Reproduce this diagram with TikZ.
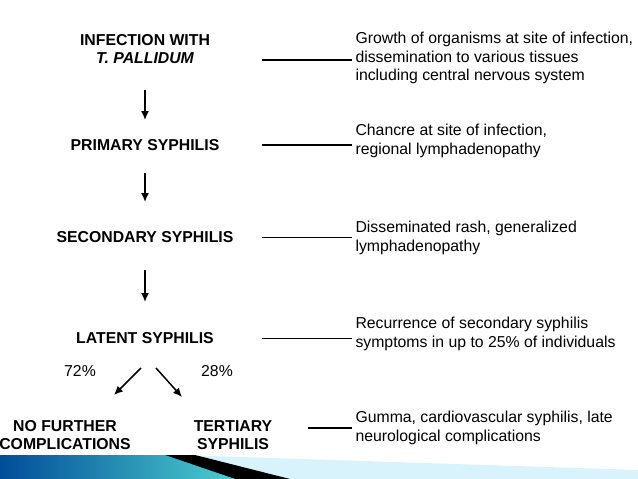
\documentclass[tikz,border=0pt]{standalone}
\usepackage{fontspec}
\setmainfont{Liberation Sans}
\usetikzlibrary{arrows.meta}
\begin{document}
\begin{tikzpicture}[x=1pt,y=-1pt,
  lt/.style={font=\bfseries\fontsize{15.8}{18}\selectfont,align=center},
  rt/.style={font=\fontsize{15.8}{18.5}\selectfont,align=left,anchor=west},
  arr/.style={-{Latex[length=9pt,width=8pt]},line width=1.5pt},
  thk/.style={line width=1.6pt},
  thn/.style={line width=0.9pt}]
\useasboundingbox (0,0) rectangle (638,479);
\fill[white] (0,0) rectangle (638,479);
% bottom band
\fill[cyan!15!white] (180,455) -- (638,470) -- (638,479) -- (180,479) -- cycle;
\fill[black] (160,455) -- (195,455) -- (290,479) -- (235,479) -- cycle;
\shade[left color=cyan!50!blue!60!black, right color=cyan!45!teal!70] (0,455) -- (165,455) -- (235,479) -- (0,479) -- cycle;
\node[lt] (a) at (145,49) {INFECTION WITH\\ \itshape T. PALLIDUM};
\node[lt] (b) at (145,145) {PRIMARY SYPHILIS};
\node[lt] (c) at (145,237) {SECONDARY SYPHILIS};
\node[lt] (d) at (145,338) {LATENT SYPHILIS};
\node[lt] (e) at (65,435) {NO FURTHER\\COMPLICATIONS};
\node[lt] (f) at (233,435) {TERTIARY\\SYPHILIS};
\node[font=\fontsize{15.8}{17}\selectfont] (p1) at (80,371) {72\%};
\node[font=\fontsize{15.8}{17}\selectfont] (p2) at (217,371) {28\%};
\coordinate (a1) at (145,90); \coordinate (a2) at (145,120);
\coordinate (b1) at (145,173); \coordinate (b2) at (145,202);
\coordinate (c1) at (145,270); \coordinate (c2) at (145,302);
\coordinate (d1) at (141,368); \coordinate (d2) at (114,395);
\coordinate (d3) at (156,368); \coordinate (d4) at (182,397);
\draw[arr] (a1) -- (a2);
\draw[arr] (b1) -- (b2);
\draw[arr] (c1) -- (c2);
\draw[arr] (d1) -- (d2);
\draw[arr] (d3) -- (d4);
\node[rt] (r1) at (352,58) {Growth of organisms at site of infection,\\dissemination to various tissues\\including central nervous system};
\node[rt] (r2) at (352,141) {Chancre at site of infection,\\regional lymphadenopathy};
\node[rt] (r3) at (352,238) {Disseminated rash, generalized\\lymphadenopathy};
\node[rt] (r4) at (352,334) {Recurrence of secondary syphilis\\symptoms in up to 25\% of individuals};
\node[rt] (r5) at (352,428) {Gumma, cardiovascular syphilis, late\\neurological complications};
\coordinate (l1) at (262,60); \coordinate (l2) at (262,145);
\coordinate (l3) at (262,237); \coordinate (l4) at (262,338);
\coordinate (l5) at (308,428);
\draw[thk] (l1) -- (l1 -| r1.west);
\draw[thk] (l2) -- (l2 -| r2.west);
\draw[thn] (l3) -- (l3 -| r3.west);
\draw[thn] (l4) -- (l4 -| r4.west);
\draw[thk] (l5) -- (l5 -| r5.west);
\end{tikzpicture}
\end{document}
